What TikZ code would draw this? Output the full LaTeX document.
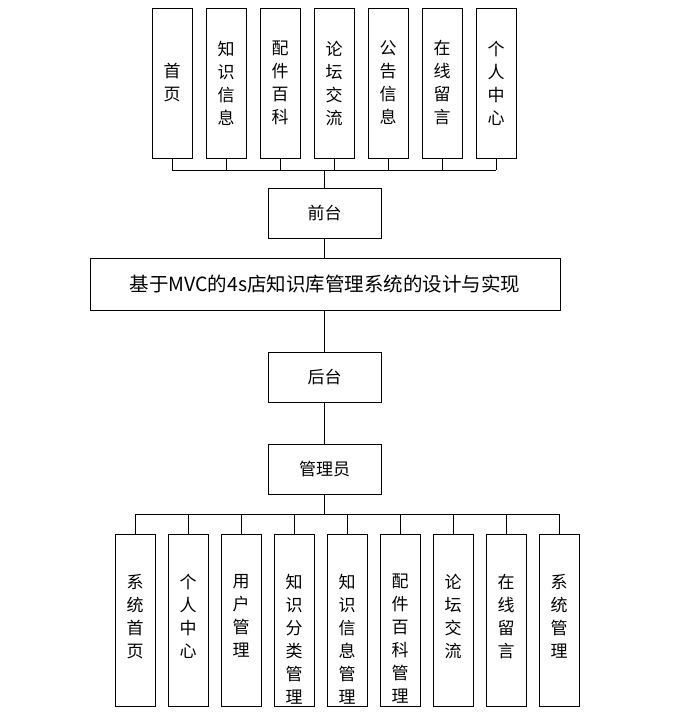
\documentclass[tikz,border=0pt]{standalone}
\usepackage{fontspec}
\newfontfamily\cjk{Noto Sans CJK SC}
\begin{document}
\begin{tikzpicture}[x=1pt,y=-1pt,
  box/.style={draw,line width=0.8pt,inner sep=0pt,font=\cjk\fontsize{17}{23}\selectfont,align=center},
  vbox/.style={box,minimum width=40pt,minimum height=150pt},
  wbox/.style={vbox,minimum height=172pt},
  hbox/.style={box,minimum width=113pt,minimum height=50pt},
  ln/.style={line width=0.8pt}]
\useasboundingbox (0,0) rectangle (678,720);
\foreach \i/\t in {1/首\\页,2/知\\识\\信\\息,3/配\\件\\百\\科,4/论\\坛\\交\\流,5/公\\告\\信\\息,6/在\\线\\留\\言,7/个\\人\\中\\心}{
  \node[vbox] (t\i) at ({172+54*(\i-1)},83) {\t};
}
\node[hbox] (qt) at (324.5,213) {前台};
\node[box,minimum width=470pt,minimum height=52pt,font=\cjk\fontsize{19.5}{23}\selectfont] (title) at (325,284) {基于MVC的4s店知识库管理系统的设计与实现};
\node[hbox] (ht) at (324.5,377) {后台};
\node[hbox] (gly) at (324.5,469) {管理员};
\foreach \i/\t in {1/系\\统\\首\\页,2/个\\人\\中\\心,3/用\\户\\管\\理,4/知\\识\\分\\类\\管\\理,5/知\\识\\信\\息\\管\\理,6/配\\件\\百\\科\\管\\理,7/论\\坛\\交\\流,8/在\\线\\留\\言,9/系\\统\\管\\理}{
  \node[wbox,text depth=0pt,anchor=north] (b\i) at ({135+53*(\i-1)},534) {};
  \node[font=\cjk\fontsize{17}{23}\selectfont,align=center,anchor=north,inner sep=0pt] (bl\i) at ({135+53*(\i-1)},574) {\t};
}
\coordinate (tbus) at (324.5,170);
\foreach \i in {1,...,7}{\draw[ln] (t\i.south) -- (t\i.south |- tbus);}
\draw[ln] (t1.south |- tbus) -- (t7.south |- tbus);
\draw[ln] (tbus) -- (qt.north);
\draw[ln] (qt.south) -- (title.north -| qt.south);
\draw[ln] (title.south -| ht.north) -- (ht.north);
\draw[ln] (ht.south) -- (gly.north);
\coordinate (bbus) at (324.5,514);
\draw[ln] (gly.south) -- (bbus);
\draw[ln] (b1.north |- bbus) -- (b9.north |- bbus);
\foreach \i in {1,...,9}{\draw[ln] (b\i.north |- bbus) -- (b\i.north);}
\end{tikzpicture}
\end{document}
